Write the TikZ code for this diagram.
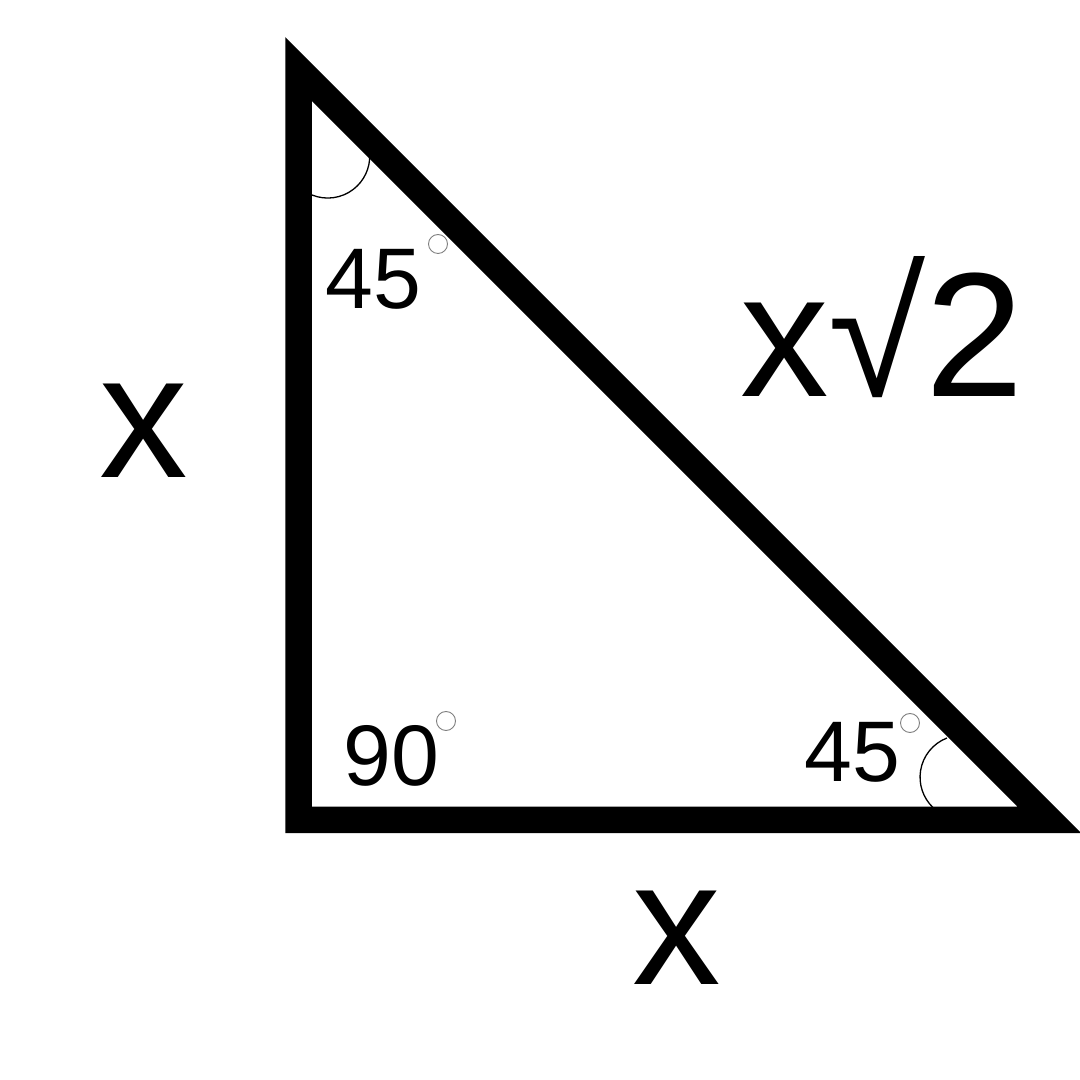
\documentclass[tikz,border=0pt]{standalone}
\usepackage{fontspec}
\setmainfont{Liberation Sans}
\usepackage{xcolor}

\begin{document}
\begin{tikzpicture}[x=1pt,y=1pt,
  side/.style={line width=26.5pt,line join=miter,miter limit=10},
  angarc/.style={line width=1.3pt},
  degmark/.style={draw=gray,line width=0.9pt},
  anglabel/.style={anchor=base west,inner sep=0,font=\fontsize{86}{100}\selectfont},
  sidelabel/.style={anchor=base west,inner sep=0,font=\fontsize{177}{200}\selectfont}]
\useasboundingbox (0,0) rectangle (1080,1080);
% corners of the triangle
\coordinate (top) at (298.5,1011);
\coordinate (right) at (298.5,260);
\coordinate (far) at (1049.5,260);
\draw[side] (top) -- (right) -- (far) -- cycle;
% angle arcs
\draw[angarc] (312,885) arc[start angle=-112,end angle=2,radius=42];
\draw[angarc] (947,342) arc[start angle=111,end angle=226,radius=42];
% angle labels
\node[anglabel] (topangle) at (325,771) {45};
\draw[degmark] (438,836) circle[radius=9.5];
\node[anglabel] (rightangle) at (343,294) {90};
\draw[degmark] (446,359) circle[radius=9.5];
\node[anglabel] (farangle) at (804,298) {45};
\draw[degmark] (910,357) circle[radius=9.5];
% side labels
\node[sidelabel] (leftside) at (99,602) {x};
\node[sidelabel] (bottomside) at (632,95) {x};
\node[sidelabel] (hypside) at (740,683) {x√2};
\end{tikzpicture}
\end{document}
